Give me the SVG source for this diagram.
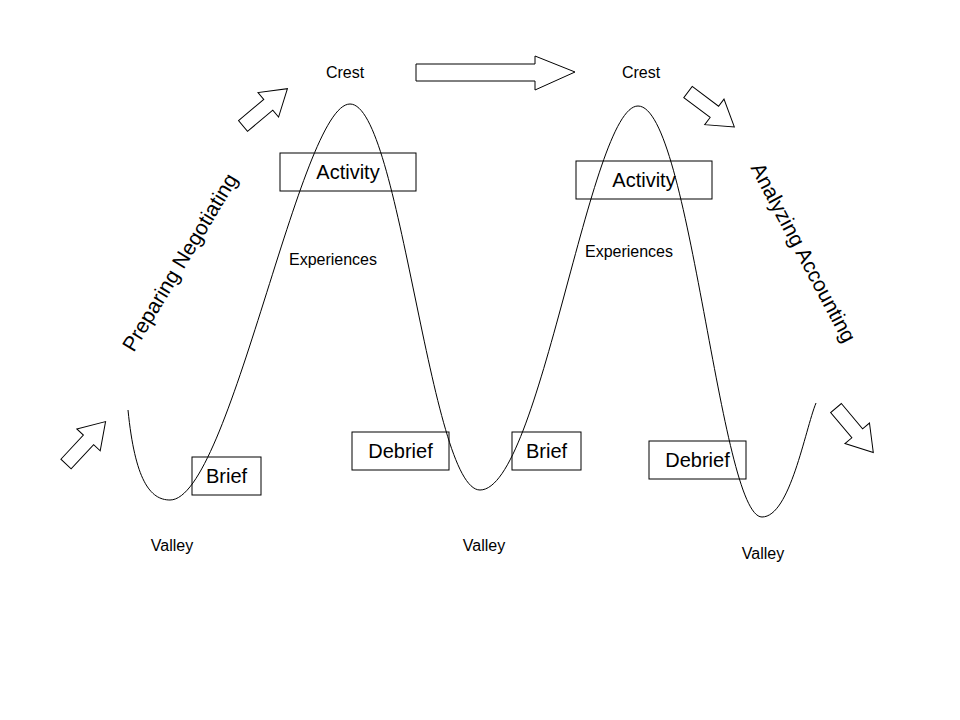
<svg xmlns="http://www.w3.org/2000/svg" width="960" height="720" viewBox="0 0 960 720">
<style>
text{font-family:"Liberation Sans",Arial,sans-serif;fill:#000}
.b{fill:none;stroke:#000;stroke-width:1}
.l{font-size:20px}
.r{font-size:21px}
.s{font-size:16px}
.a{fill:#fff;stroke:#000;stroke-width:1}
</style>
<defs>
<path id="arr" d="M0,-7 L33,-7 L33,-16 L58,0 L33,16 L33,7 L0,7 Z"/>
</defs>
<rect width="960" height="720" fill="#fff"/>
<g id="connectors">
<path d="M128,410 C135,480 150,500 170,500 C230,500 300,104 350,104 C400,104 430,490 480,490 C540,490 590,106 638,106 C690,106 720,517 762,517 C790,517 805,430 816,403" fill="none" stroke="#000" stroke-width="1"/>
<use href="#arr" class="a" transform="translate(66,464) rotate(-47)"/>
<use href="#arr" class="a" transform="translate(243,126) rotate(-40)"/>
<use href="#arr" class="a" transform="translate(688,92) rotate(37)"/>
<use href="#arr" class="a" transform="translate(836,408) rotate(50)"/>
<path class="a" d="M416,64 L535,64 L535,56 L575,72 L535,90 L535,81 L416,81 Z"/>
</g>
<g id="activity1"><rect class="b" x="280" y="153" width="136" height="38"/><text class="l" x="348" y="179" text-anchor="middle">Activity</text></g>
<g id="activity2"><rect class="b" x="576" y="161" width="136" height="38"/><text class="l" x="644" y="187" text-anchor="middle">Activity</text></g>
<g id="brief1"><rect class="b" x="192" y="457" width="69" height="38"/><text class="l" x="226.5" y="483" text-anchor="middle">Brief</text></g>
<g id="debrief1"><rect class="b" x="352" y="432" width="97" height="38"/><text class="l" x="400.5" y="458" text-anchor="middle">Debrief</text></g>
<g id="brief2"><rect class="b" x="512" y="432" width="69" height="38"/><text class="l" x="546.5" y="458" text-anchor="middle">Brief</text></g>
<g id="debrief2"><rect class="b" x="649" y="441" width="97" height="38"/><text class="l" x="697.5" y="467" text-anchor="middle">Debrief</text></g>
<g id="labels">
<text class="s" x="345" y="78" text-anchor="middle">Crest</text>
<text class="s" x="641" y="78" text-anchor="middle">Crest</text>
<text class="s" x="333" y="265" text-anchor="middle">Experiences</text>
<text class="s" x="629" y="257" text-anchor="middle">Experiences</text>
<text class="s" x="172" y="551" text-anchor="middle">Valley</text>
<text class="s" x="484" y="551" text-anchor="middle">Valley</text>
<text class="s" x="763" y="559" text-anchor="middle">Valley</text>
<text class="r" x="0" y="0" text-anchor="middle" transform="translate(186,266) rotate(-59)">Preparing Negotiating</text>
<text class="r" x="0" y="0" text-anchor="middle" transform="translate(797,256) rotate(62)">Analyzing Accounting</text>
</g>
</svg>
